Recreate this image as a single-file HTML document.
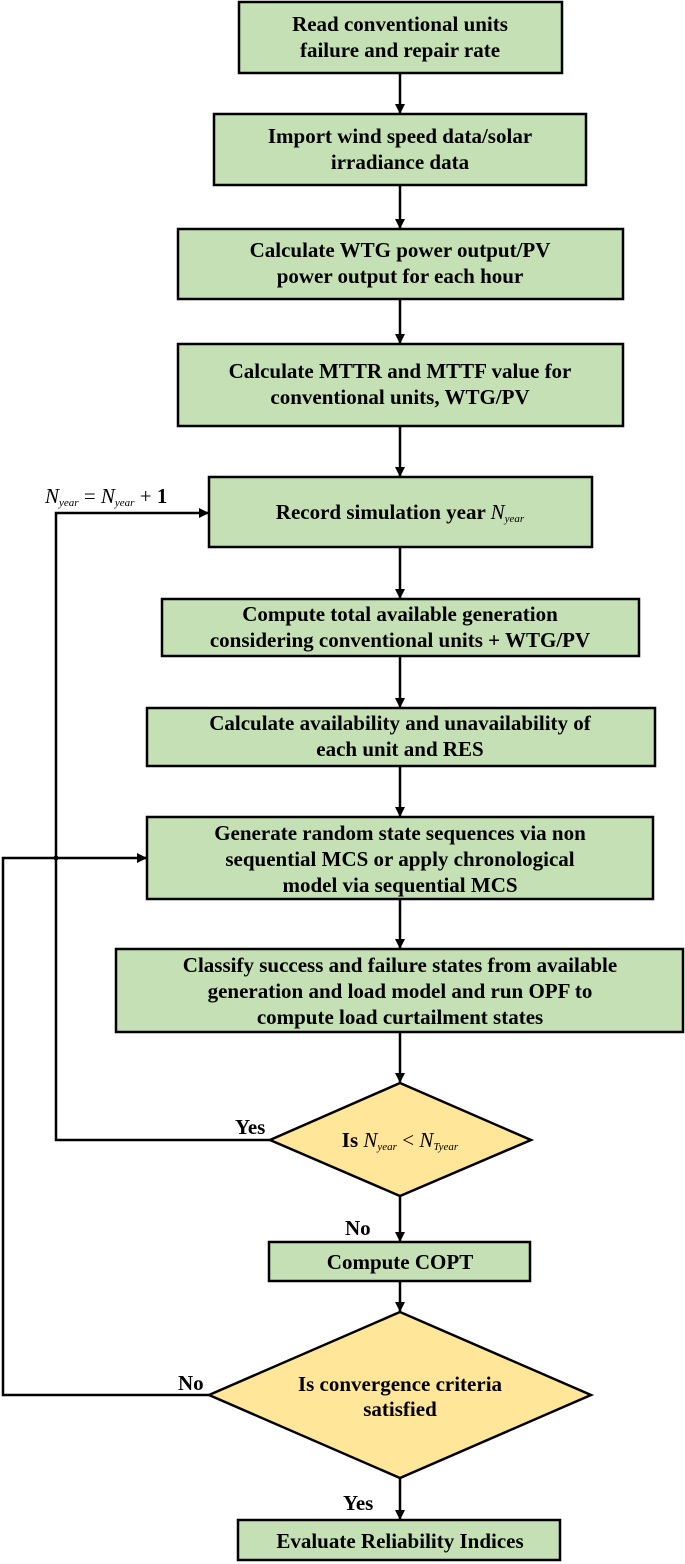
<!DOCTYPE html>
<html><head><meta charset="utf-8"><style>
html,body{margin:0;padding:0;background:#fff;}
svg{display:block;}
text{font-family:"Liberation Serif",serif;font-weight:bold;font-size:21px;fill:#000;}
.i{font-style:italic;font-weight:normal;}
</style></head><body>
<svg width="685" height="1564" viewBox="0 0 685 1564" xmlns="http://www.w3.org/2000/svg">
<defs><marker id="a" markerWidth="10" markerHeight="10" refX="9" refY="5" orient="auto" markerUnits="userSpaceOnUse"><path d="M0,0 L10,5 L0,10 z" fill="#000"/></marker></defs>
<g fill="#c5e0b4" stroke="#000" stroke-width="2.5">
<rect x="239" y="2" width="323" height="71"/>
<rect x="214" y="114" width="372" height="71"/>
<rect x="178" y="229" width="445" height="70"/>
<rect x="178" y="344" width="445" height="82"/>
<rect x="209" y="477" width="383" height="70"/>
<rect x="162" y="599" width="477" height="57"/>
<rect x="147" y="708" width="508" height="58"/>
<rect x="147" y="817" width="506" height="82"/>
<rect x="116" y="949" width="567" height="83"/>
<rect x="269" y="1242" width="261" height="39"/>
<rect x="238" y="1520" width="322" height="40"/>
</g>
<g fill="#ffe699" stroke="#000" stroke-width="2.5">
<polygon points="400,1083 531,1140 400,1196 270,1140"/>
<polygon points="400,1312 591,1395 400,1478 209,1395"/>
</g>
<g stroke="#000" stroke-width="2.5" fill="none" marker-end="url(#a)">
<line x1="400" y1="73" x2="400" y2="113"/>
<line x1="400" y1="185" x2="400" y2="228"/>
<line x1="400" y1="299" x2="400" y2="343"/>
<line x1="400" y1="426" x2="400" y2="476"/>
<line x1="400" y1="547" x2="400" y2="598"/>
<line x1="400" y1="656" x2="400" y2="707"/>
<line x1="400" y1="766" x2="400" y2="816"/>
<line x1="400" y1="899" x2="400" y2="948"/>
<line x1="400" y1="1032" x2="400" y2="1082"/>
<line x1="400" y1="1196" x2="400" y2="1241"/>
<line x1="400" y1="1281" x2="400" y2="1311"/>
<line x1="400" y1="1478" x2="400" y2="1519"/>
<polyline points="270,1140 56,1140 56,513 208,513"/>
<polyline points="209,1395 3,1395 3,858 146,858"/>
</g>
<circle cx="56" cy="858" r="2.5" fill="#000"/>
<g text-anchor="middle">
<text x="400" y="31">Read conventional units</text>
<text x="400" y="57">failure and repair rate</text>
<text x="400" y="143">Import wind speed data/solar</text>
<text x="400" y="169">irradiance data</text>
<text x="400" y="257">Calculate WTG power output/PV</text>
<text x="400" y="283">power output for each hour</text>
<text x="400" y="378">Calculate MTTR and MTTF value for</text>
<text x="400" y="404">conventional units, WTG/PV</text>
<text x="400" y="519">Record simulation year <tspan class="i">N</tspan><tspan class="i" font-size="11" dy="3">year</tspan></text>
<text x="400" y="621">Compute total available generation</text>
<text x="400" y="647">considering conventional units + WTG/PV</text>
<text x="400" y="730">Calculate availability and unavailability of</text>
<text x="400" y="756">each unit and RES</text>
<text x="400" y="840">Generate random state sequences via non</text>
<text x="400" y="866">sequential MCS or apply chronological</text>
<text x="400" y="892">model via sequential MCS</text>
<text x="400" y="972">Classify success and failure states from available</text>
<text x="400" y="998">generation and load model and run OPF to</text>
<text x="400" y="1024">compute load curtailment states</text>
<text x="400" y="1147">Is <tspan class="i">N</tspan><tspan class="i" font-size="11" dy="3">year</tspan><tspan dy="-3" font-weight="normal"> &lt; </tspan><tspan class="i">N</tspan><tspan class="i" font-size="11" dy="3">Tyear</tspan></text>
<text x="400" y="1269">Compute COPT</text>
<text x="400" y="1391">Is convergence criteria</text>
<text x="400" y="1416">satisfied</text>
<text x="400" y="1548">Evaluate Reliability Indices</text>
</g>
<text x="45" y="503"><tspan class="i">N</tspan><tspan class="i" font-size="11" dy="3">year</tspan><tspan dy="-3" font-weight="normal"> = </tspan><tspan class="i">N</tspan><tspan class="i" font-size="11" dy="3">year</tspan><tspan dy="-3" font-weight="normal"> + </tspan>1</text>
<text x="235" y="1134">Yes</text>
<text x="345" y="1235">No</text>
<text x="178" y="1390">No</text>
<text x="343" y="1510">Yes</text>
</svg>
</body></html>
